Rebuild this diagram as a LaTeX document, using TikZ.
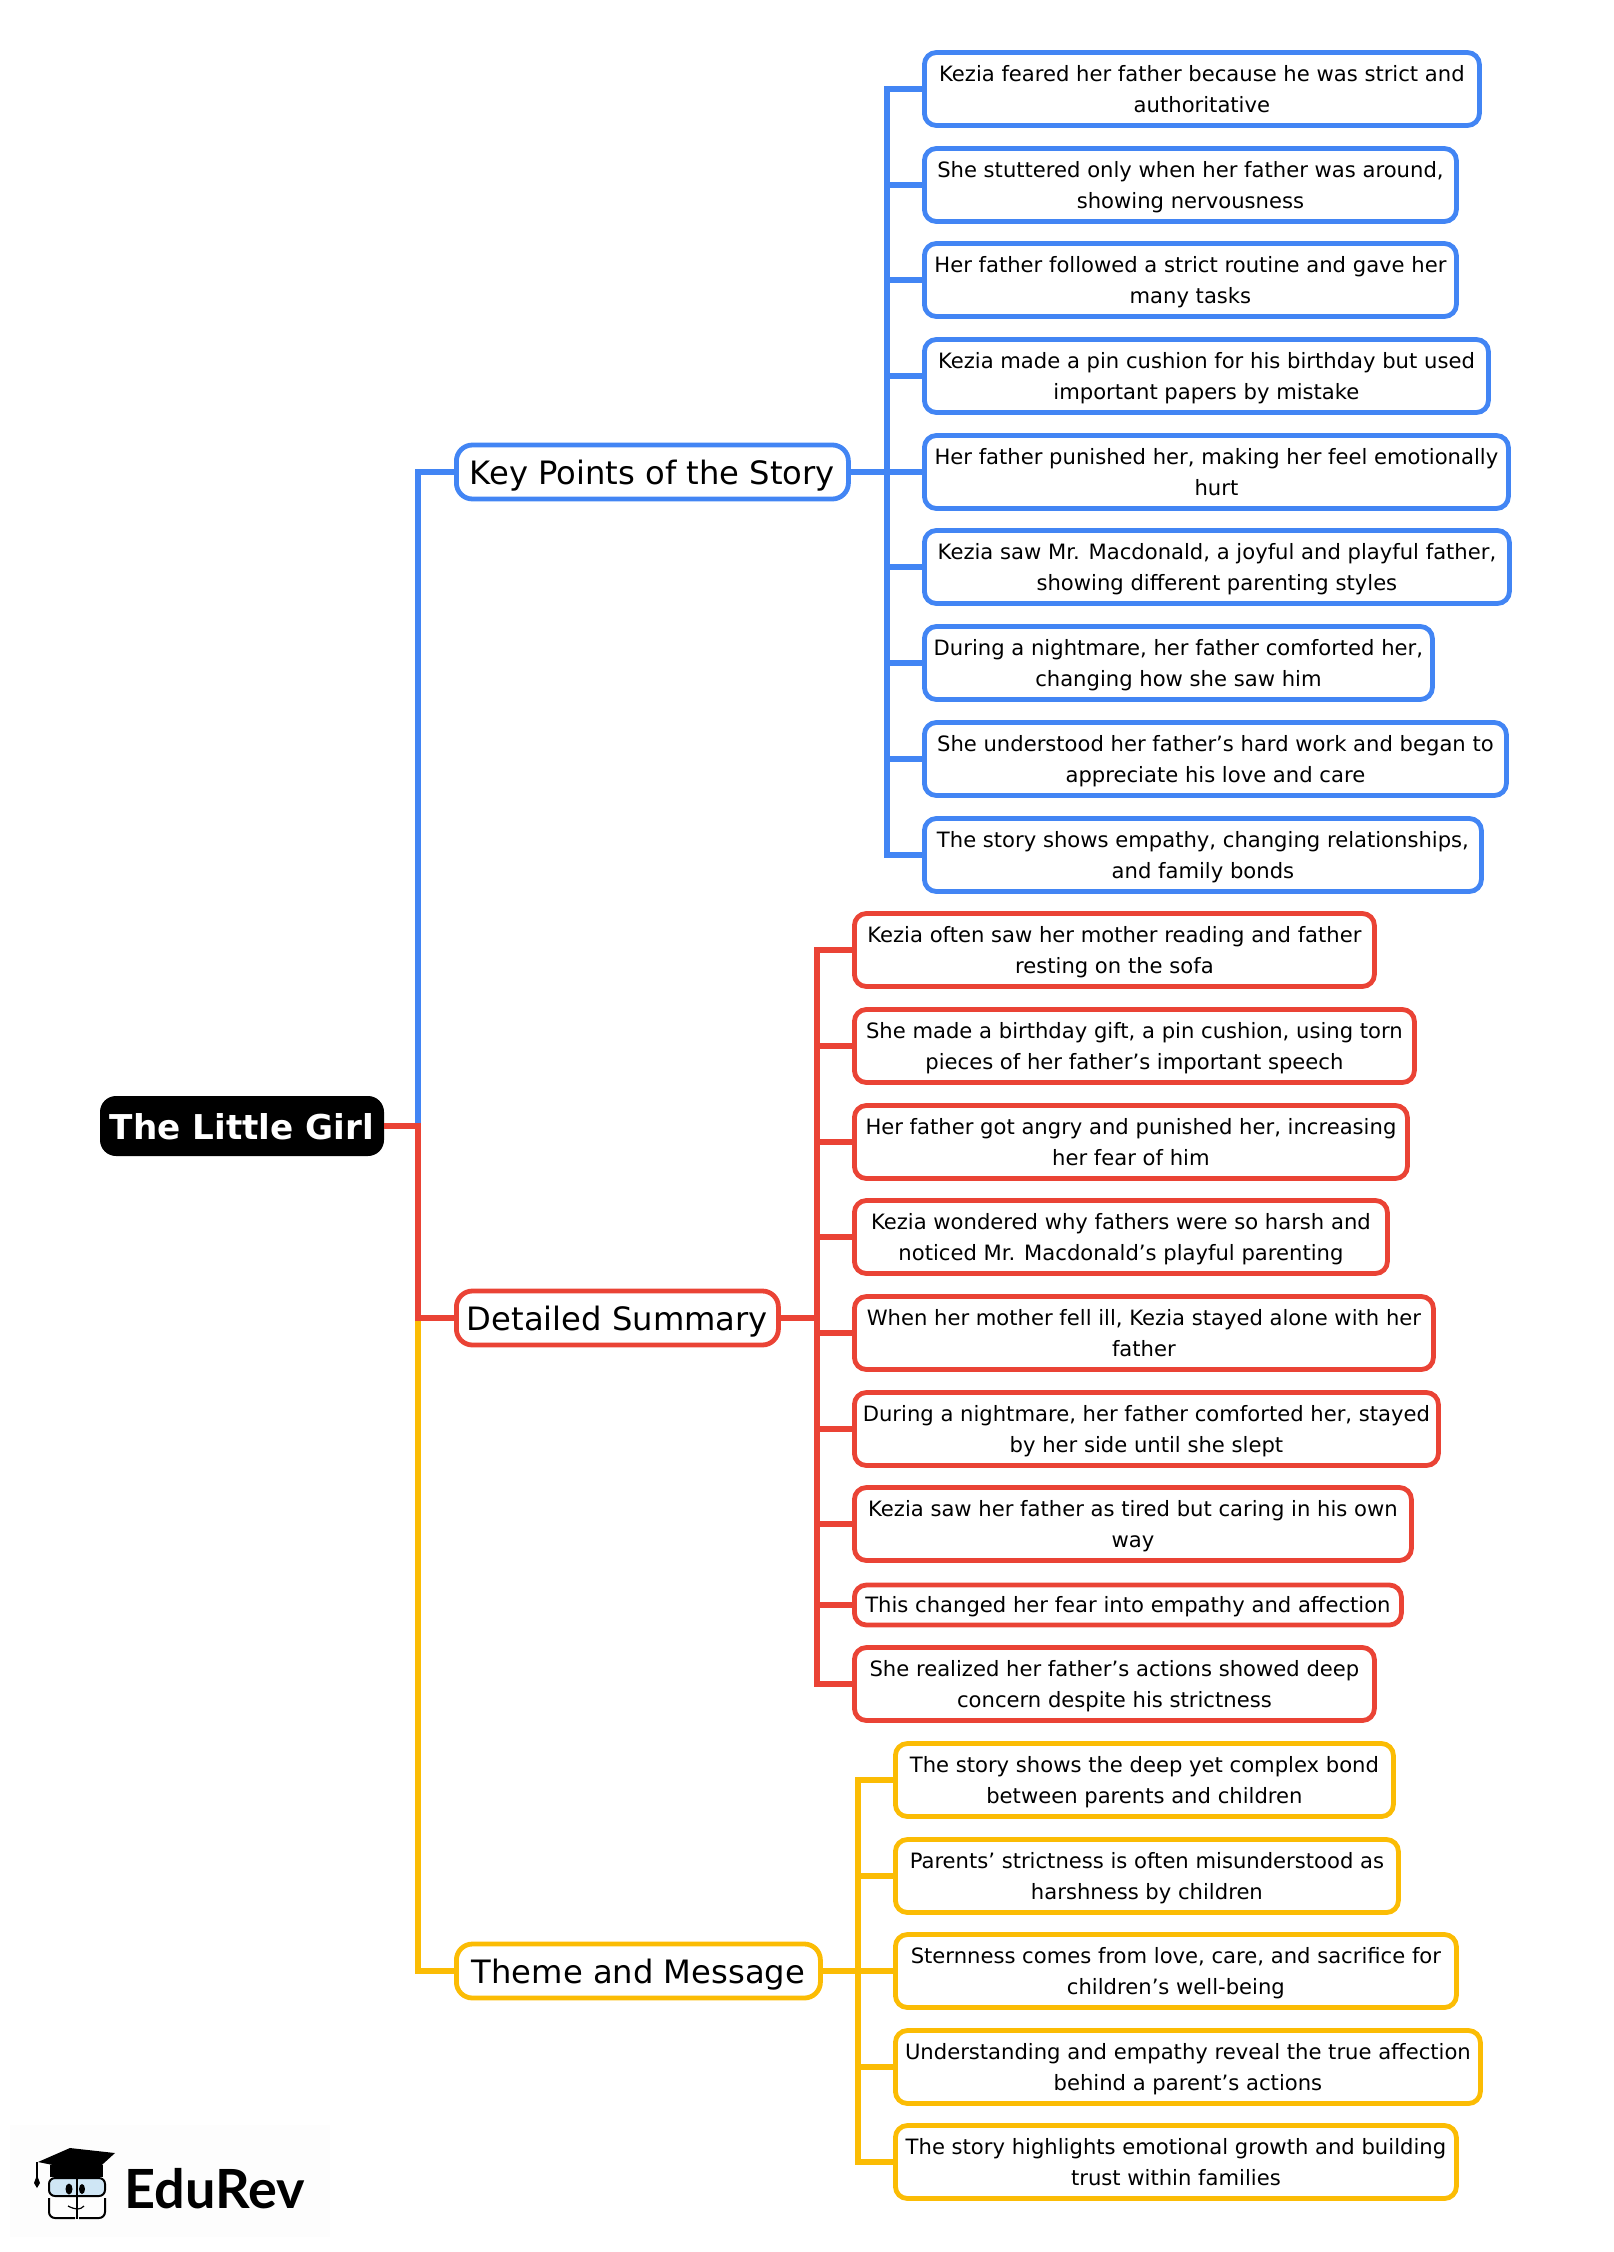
\documentclass[tikz,border=0pt]{standalone}
\usepackage{fontspec}
\setmainfont{DejaVu Sans}
\newfontfamily\logofont{Lato}
\definecolor{keyblue}{HTML}{4285F4}
\definecolor{sumred}{HTML}{EA4335}
\definecolor{themeyellow}{HTML}{FBBC04}
\definecolor{glassblue}{HTML}{CFE6F5}
\tikzset{
  rootbox/.style={fill=black, text=white, rounded corners=8pt, minimum height=30pt, inner xsep=0pt, inner ysep=0pt,
    font=\fontsize{17.1}{20}\selectfont\bfseries, execute at begin node={\rule{0pt}{14pt}}},
  headbox/.style={draw=#1, fill=white, line width=2.4pt, rounded corners=8pt, anchor=west, minimum height=27pt, inner xsep=0pt, inner ysep=0pt,
    font=\fontsize{16.1}{20}\selectfont, execute at begin node={\rule[-4pt]{0pt}{20pt}}},
  leafbox/.style={draw=#1, fill=white, line width=2.4pt, rounded corners=6pt, anchor=west, inner xsep=0pt, inner ysep=0pt, align=center,
    font=\fontsize{10.56}{15.8}\selectfont},
  twolines/.style={minimum height=36.5pt, execute at begin node={\rule[-3.2pt]{0pt}{30.2pt}}},
  oneline/.style={minimum height=20pt, execute at begin node={\rule[-2.5pt]{0pt}{12.5pt}}},
  link/.style={draw=#1, line width=2.6pt},
}
\begin{document}
\begin{tikzpicture}[x=0.5pt,y=-0.5pt]
  \useasboundingbox (0,0) rectangle (1613,2252);

  % Racine et branches
  \node [rootbox, minimum width=142pt] (root) at (242,1126) {The Little Girl};
  \node [headbox=keyblue, minimum width=196pt] (key) at (454,472) {Key Points of the Story};
  \node [headbox=sumred, minimum width=161pt] (detail) at (454,1318) {Detailed Summary};
  \node [headbox=themeyellow, minimum width=182pt] (theme) at (454,1971) {Theme and Message};

  \coordinate (trunk) at (418,1126);
  \coordinate (keybus) at (887,472);
  \coordinate (detailbus) at (817,1318);
  \coordinate (themebus) at (858,1971);

  % Tronc
  \draw [link=themeyellow, line width=3pt] (trunk) |- (theme.west);
  \draw [link=keyblue, line width=3pt] (trunk) |- (key.west);
  \draw [link=sumred, line width=3pt] (root.east) -- (trunk) |- (detail.west);

  % Points clefs
  \foreach \i/\y/\r/\txt in {
    1/89/1477/{Kezia feared her father because he was strict and\\authoritative},
    2/185/1454/{She stuttered only when her father was around,\\showing nervousness},
    3/280/1454/{Her father followed a strict routine and gave her\\many tasks},
    4/376/1486/{Kezia made a pin cushion for his birthday but used\\important papers by mistake},
    5/472/1506/{Her father punished her, making her feel emotionally\\hurt},
    6/567/1507/{Kezia saw Mr. Macdonald, a joyful and playful father,\\showing different parenting styles},
    7/663/1430/{During a nightmare, her father comforted her,\\changing how she saw him},
    8/759/1504/{She understood her father’s hard work and began to\\appreciate his love and care},
    9/855/1479/{The story shows empathy, changing relationships,\\and family bonds}}
  {
    \node [leafbox=keyblue, twolines, minimum width={(\r-922)*0.5pt}] (k\i) at (922,\y) {\txt};
    \draw [link=keyblue] (keybus) |- (k\i.west);
  }
  \draw [link=keyblue] (key.east) -- (keybus);

  % Résumé
  \foreach \i/\y/\r/\txt in {
    1/950/1372/{Kezia often saw her mother reading and father\\resting on the sofa},
    2/1046/1412/{She made a birthday gift, a pin cushion, using torn\\pieces of her father’s important speech},
    3/1142/1405/{Her father got angry and punished her, increasing\\her fear of him},
    4/1237/1385/{Kezia wondered why fathers were so harsh and\\noticed Mr. Macdonald’s playful parenting},
    5/1333/1431/{When her mother fell ill, Kezia stayed alone with her\\father},
    6/1429/1436/{During a nightmare, her father comforted her, stayed\\by her side until she slept},
    7/1524/1409/{Kezia saw her father as tired but caring in his own\\way},
    9/1684/1372/{She realized her father’s actions showed deep\\concern despite his strictness}}
  {
    \node [leafbox=sumred, twolines, minimum width={(\r-852)*0.5pt}] (d\i) at (852,\y) {\txt};
    \draw [link=sumred] (detailbus) |- (d\i.west);
  }
  \node [leafbox=sumred, oneline, minimum width=273.5pt] (d8) at (852,1605) {This changed her fear into empathy and affection};
  \draw [link=sumred] (detailbus) |- (d8.west);
  \draw [link=sumred] (detail.east) -- (detailbus);

  % Thème
  \foreach \i/\y/\r/\txt in {
    1/1780/1391/{The story shows the deep yet complex bond\\between parents and children},
    2/1876/1396/{Parents’ strictness is often misunderstood as\\harshness by children},
    3/1971/1454/{Sternness comes from love, care, and sacrifice for\\children’s well-being},
    4/2067/1478/{Understanding and empathy reveal the true affection\\behind a parent’s actions},
    5/2162/1454/{The story highlights emotional growth and building\\trust within families}}
  {
    \node [leafbox=themeyellow, twolines, minimum width={(\r-893)*0.5pt}] (t\i) at (893,\y) {\txt};
    \draw [link=themeyellow] (themebus) |- (t\i.west);
  }
  \draw [link=themeyellow] (theme.east) -- (themebus);

  % Logo
  \fill [black!0.6] (10,2125) rectangle (330,2237);
  \draw [line width=0.6pt] (37,2162) -- (37,2180);
  \fill (37,2175) -- (40,2183) -- (37,2188) -- (34,2183) -- cycle;
  \fill (50,2165) -- (50,2177) -- (103,2177) -- (103,2165) -- cycle;
  \fill (38,2162) -- (70,2148) -- (115,2153) -- (93,2173) -- cycle;
  \draw [fill=glassblue, line width=1pt, rounded corners=3pt] (49,2178) rectangle (105,2196);
  \draw [line width=1pt, rounded corners=3pt] (49,2198) -- (49,2218) -- (75,2218);
  \draw [line width=1pt, rounded corners=3pt] (105,2198) -- (105,2218) -- (79,2218);
  \draw [line width=1pt] (77,2178) -- (77,2219);
  \fill (69,2189) ellipse [x radius=3.5, y radius=5.5];
  \fill (82,2189) ellipse [x radius=3, y radius=5];
  \draw [line width=0.6pt] (68,2206) .. controls (76,2210) and (80,2210) .. (84,2206);
  \node [anchor=base west, inner sep=0pt, font=\logofont\bfseries\fontsize{27}{30}\selectfont] (logotext) at (124,2208) {EduRev};
\end{tikzpicture}
\end{document}
